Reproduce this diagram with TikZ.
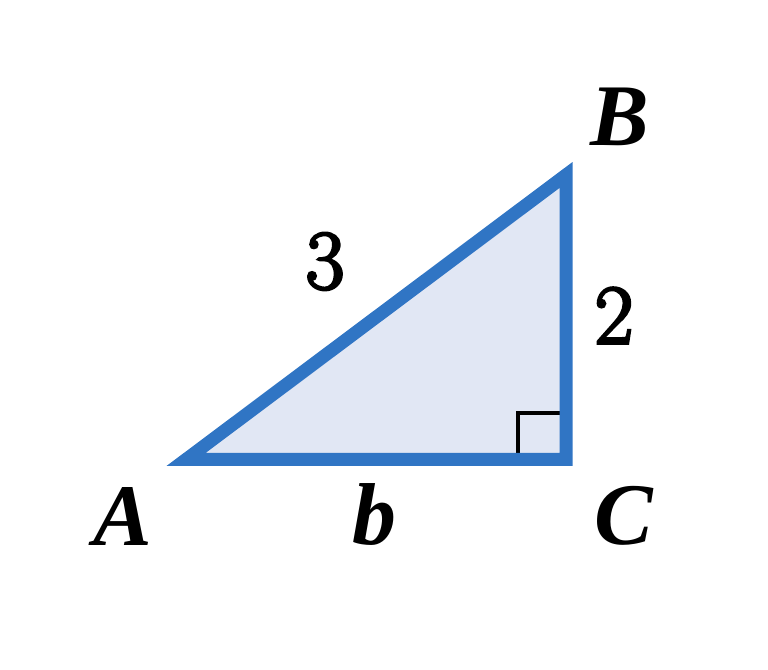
\documentclass[tikz,border=0pt]{standalone}
\usepackage{fontspec}
\usepackage{xcolor}
\usepackage{tikz}

\newfontfamily\letterfont{Liberation Serif}
\newcommand\heavydigit[1]{\special{pdf:literal direct 2 Tr 0.8 w}#1\special{pdf:literal direct 0 Tr}}

\definecolor{edgeblue}{RGB}{48,117,196}
\definecolor{fillblue}{RGB}{225,231,244}

\begin{document}
\begin{tikzpicture}[thick,
        lbl/.style={font=\fontsize{25}{30}\selectfont\letterfont\bfseries\itshape},
        num/.style={font=\fontsize{24}{28}\selectfont}]
        \useasboundingbox (0, 0) rectangle (7.68, 6.7);

        \coordinate (A) at (1.86, 2.105);
        \coordinate (B) at (5.66, 4.95);
        \coordinate (C) at (5.66, 2.105);

        \fill[fillblue] (A) -- (B) -- (C) -- cycle;
        \draw[line width=1pt] (5.18, 2.105) -- (5.18, 2.57) -- (5.66, 2.57);
        \draw[edgeblue, line width=0.13cm] (A) -- (B) -- (C) -- cycle;

        \node[lbl] (labA) at (1.225, 1.535) {A};
        \node[lbl] (labB) at (6.20, 5.53) {B};
        \node[lbl] (labC) at (6.235, 1.54) {C};
        \node[lbl] (labb) at (3.74, 1.555) {b};
        \node[num] (lab3) at (3.25, 4.085) {\heavydigit{3}};
        \node[num] (lab2) at (6.14, 3.545) {\heavydigit{2}};
    \end{tikzpicture}
\end{document}
